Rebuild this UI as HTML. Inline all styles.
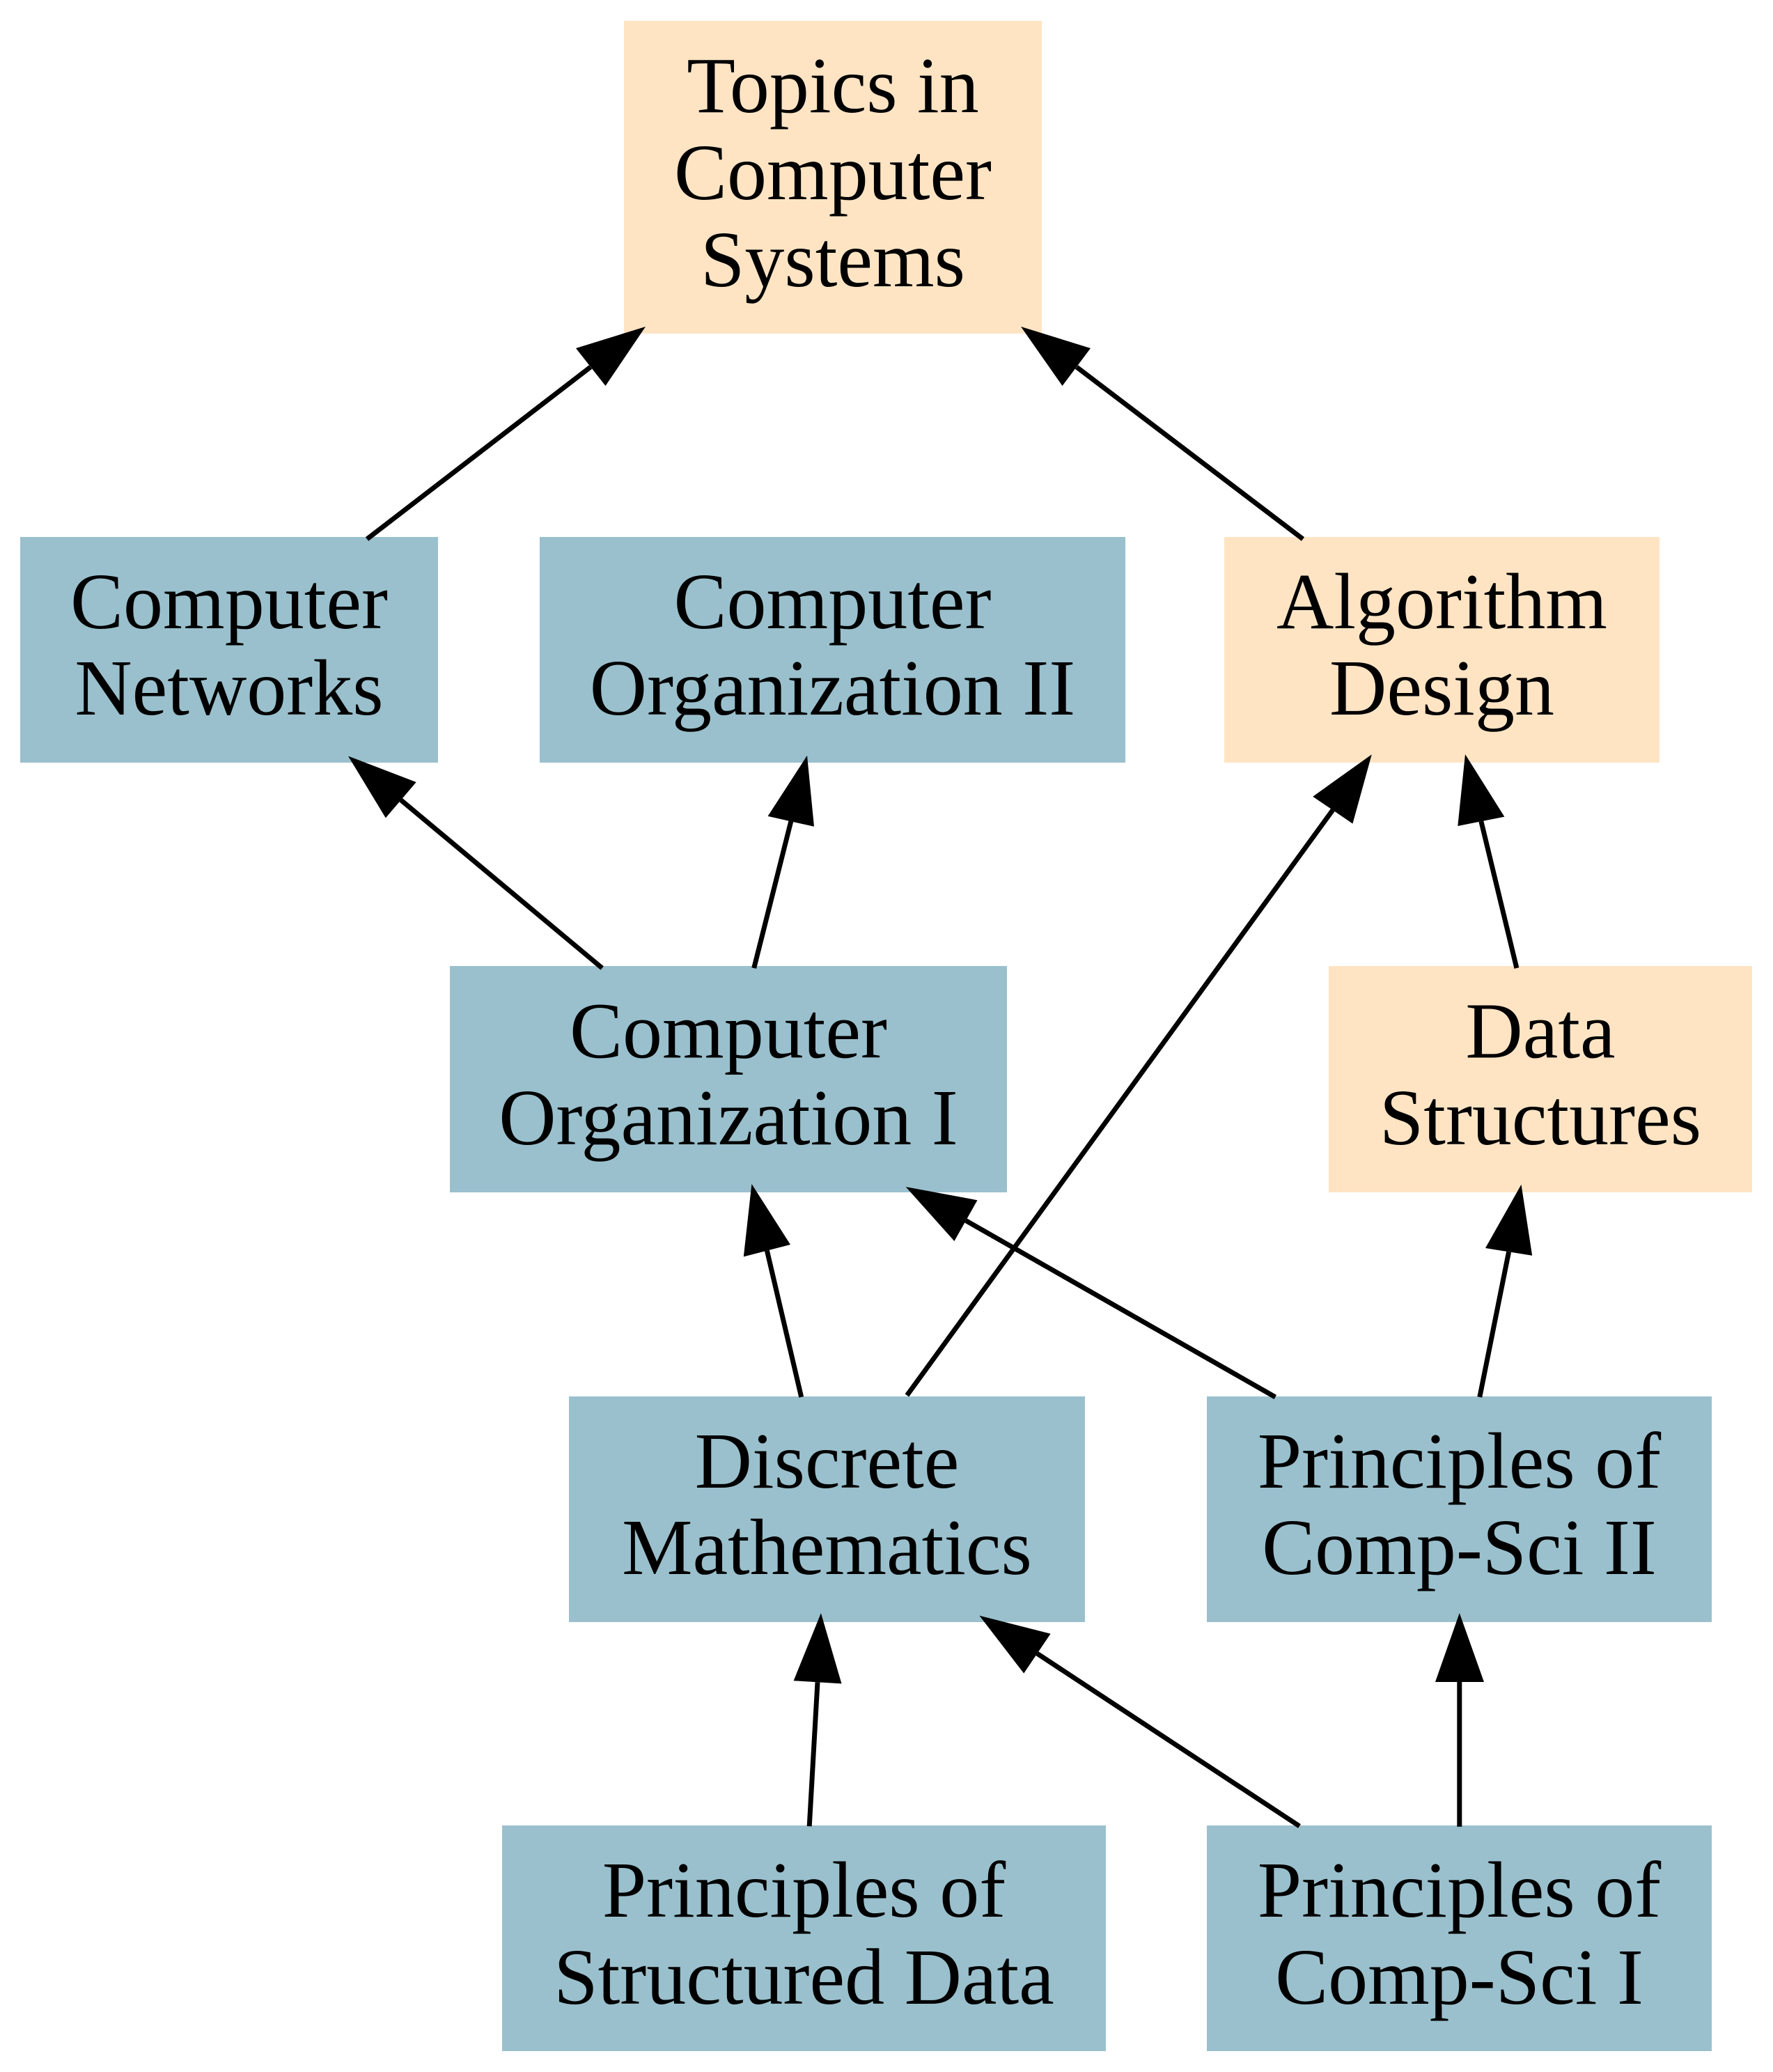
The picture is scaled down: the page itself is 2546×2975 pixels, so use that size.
<!DOCTYPE html>
<html>
<head>
<meta charset="utf-8">
<style>
html,body{margin:0;padding:0;background:#ffffff;}
svg{display:block;}
text{font-family:"Liberation Serif","Times New Roman",serif;font-size:114px;fill:#000;text-anchor:middle;}
</style>
</head>
<body>
<svg width="2546" height="2975" viewBox="0 0 2546 2975" xmlns="http://www.w3.org/2000/svg">
<rect x="0" y="0" width="2546" height="2975" fill="#ffffff"/>

<!-- Nodes -->
<rect x="896" y="30" width="600" height="449" fill="#ffe4c4"/>
<rect x="29" y="771" width="600" height="324" fill="#9ac0cd"/>
<rect x="775" y="771" width="841" height="324" fill="#9ac0cd"/>
<rect x="1758" y="771" width="625" height="324" fill="#ffe4c4"/>
<rect x="646" y="1387" width="800" height="325" fill="#9ac0cd"/>
<rect x="1908" y="1387" width="608" height="325" fill="#ffe4c4"/>
<rect x="817" y="2005" width="741" height="324" fill="#9ac0cd"/>
<rect x="1733" y="2005" width="725" height="324" fill="#9ac0cd"/>
<rect x="721" y="2621" width="867" height="324" fill="#9ac0cd"/>
<rect x="1733" y="2621" width="725" height="324" fill="#9ac0cd"/>

<!-- Edges -->
<g stroke="#000" stroke-width="7" fill="none" stroke-linecap="butt">
<line x1="527" y1="774" x2="848" y2="527"/>
<line x1="1871" y1="774" x2="1546" y2="527"/>
<line x1="864.7" y1="1390" x2="575.7" y2="1148.7"/>
<line x1="1082.7" y1="1390" x2="1135.8" y2="1179.3"/>
<line x1="1150.7" y1="2005.9" x2="1101.4" y2="1795.7"/>
<line x1="1302.4" y1="2003.4" x2="1913.8" y2="1163.1"/>
<line x1="2177.9" y1="1390" x2="2126.9" y2="1179.3"/>
<line x1="1831.3" y1="2005.9" x2="1387" y2="1752.6"/>
<line x1="2124.8" y1="2005.9" x2="2166.6" y2="1797.4"/>
<line x1="1162.2" y1="2622.2" x2="1174" y2="2415.3"/>
<line x1="1866" y1="2622" x2="1489.4" y2="2374.2"/>
<line x1="2095.8" y1="2622.7" x2="2095.8" y2="2415"/>
</g>
<g fill="#000" stroke="none">
<polygon points="927,469 827,500 869.5,554"/>
<polygon points="1466,469 1566,500 1525.5,554"/>
<polygon points="500,1085.6 597.7,1123 553.8,1174.4"/>
<polygon points="1159,1084.8 1102.6,1171.9 1169,1186.8"/>
<polygon points="1079.4,1700 1067.8,1804.4 1135,1787"/>
<polygon points="1969.8,1083.2 1885.2,1143.7 1942.4,1182.6"/>
<polygon points="2104,1083 2093.3,1186 2160.4,1172.7"/>
<polygon points="1300.7,1704.1 1403.5,1723.2 1370.4,1782"/>
<polygon points="2184.5,1700.8 2133,1792 2200.2,1802.8"/>
<polygon points="1178.9,2316.1 1139.6,2413.2 1208.5,2417.4"/>
<polygon points="1406.4,2319.8 1508.6,2345.7 1470.2,2402.6"/>
<polygon points="2095.8,2316 2061,2415 2131,2415"/>
</g>

<!-- Labels -->
<text x="1196" y="161">Topics in</text>
<text x="1196" y="286">Computer</text>
<text x="1196" y="411">Systems</text>

<text x="329" y="902">Computer</text>
<text x="329" y="1026">Networks</text>

<text x="1195.5" y="902">Computer</text>
<text x="1195.5" y="1026">Organization II</text>

<text x="2070.5" y="902">Algorithm</text>
<text x="2070.5" y="1026">Design</text>

<text x="1046" y="1518.5">Computer</text>
<text x="1046" y="1643">Organization I</text>

<text x="2212" y="1518.5">Data</text>
<text x="2212" y="1643">Structures</text>

<text x="1187.5" y="2136">Discrete</text>
<text x="1187.5" y="2260">Mathematics</text>

<text x="2095.5" y="2136">Principles of</text>
<text x="2095.5" y="2260">Comp-Sci II</text>

<text x="1154.5" y="2752">Principles of</text>
<text x="1154.5" y="2877">Structured Data</text>

<text x="2095.5" y="2752">Principles of</text>
<text x="2095.5" y="2877">Comp-Sci I</text>
</svg>
</body>
</html>
